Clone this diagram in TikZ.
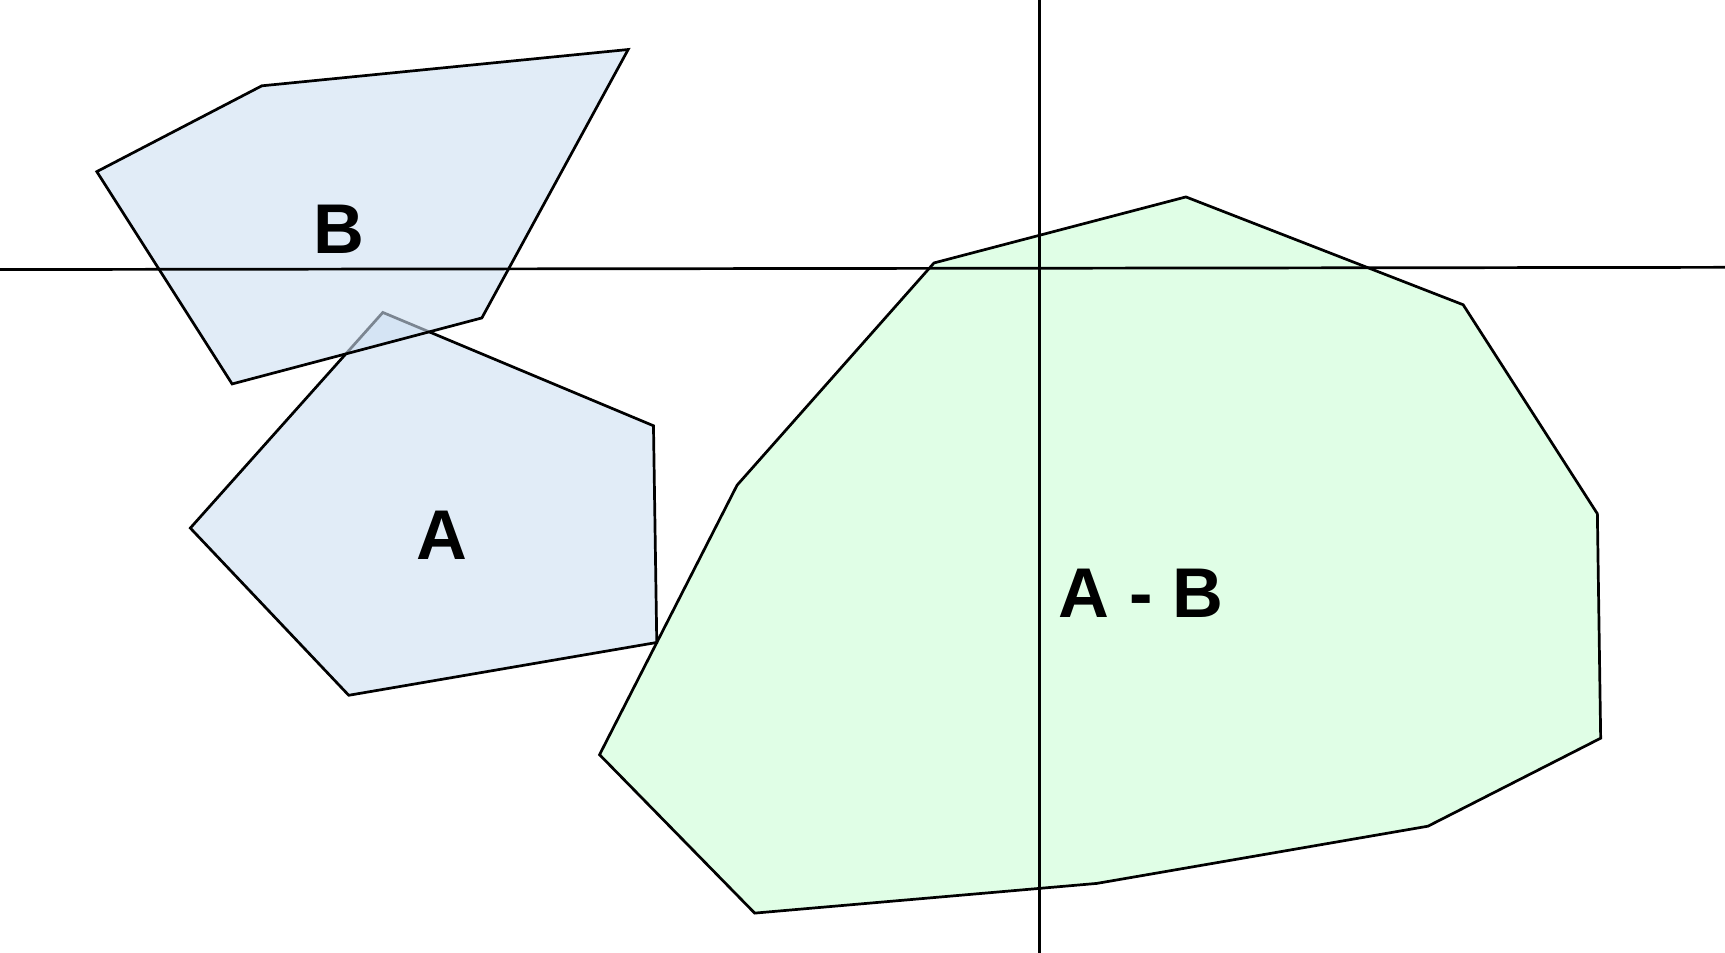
\documentclass[tikz,border=0pt]{standalone}
\usepackage{fontspec}
\setmainfont{Liberation Sans}
\definecolor{bluefill}{RGB}{205,223,242}
\definecolor{greenfill}{RGB}{224,254,230}
\tikzset{
  shapeline/.style={draw=black, line width=0.7pt, line join=miter},
  blueshape/.style={shapeline, fill=bluefill, fill opacity=0.6},
  greenshape/.style={shapeline, fill=greenfill},
  axisline/.style={draw=black, line width=0.7pt},
  lbl/.style={font=\fontsize{18.2}{20}\selectfont\bfseries, inner sep=0pt}
}
\begin{document}
\begin{tikzpicture}[x=0.01cm, y=-0.01cm]
\useasboundingbox (0,0) rectangle (1568,866);
% green A - B
\draw[greenshape] (849,239) -- (1078,179) -- (1330,277) -- (1452,467) -- (1455,671) -- (1298,751) -- (997,803) -- (686,830) -- (545,686) -- (670,441) -- cycle;
% A
\draw[blueshape] (348,284) -- (594,387) -- (597,584) -- (317,632) -- (173,480) -- cycle;
% B
\draw[blueshape] (88,156) -- (238,78) -- (571,45) -- (438,289) -- (211,349) -- cycle;
% axes
\coordinate (hl) at (0,245);
\coordinate (hr) at (1568,243);
\coordinate (vt) at (945,0);
\coordinate (vb) at (945,866);
\draw[axisline] (hl) -- (hr);
\draw[axisline] (vt) -- (vb);
% labels
\node[lbl] (lb) at (308,208) {B};
\node[lbl] (la) at (402,487) {A};
\node[lbl] (lab) at (1037,539) {A - B};
\end{tikzpicture}
\end{document}
